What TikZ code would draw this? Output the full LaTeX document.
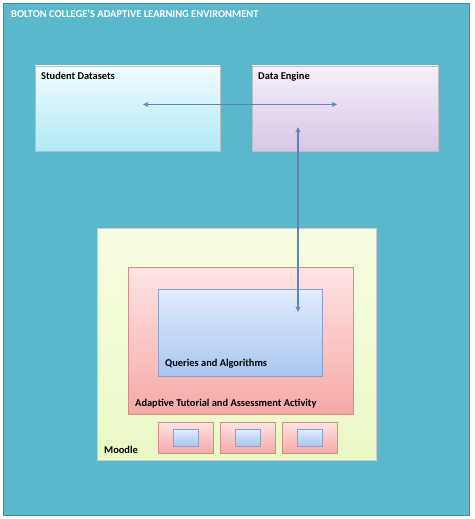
\documentclass[tikz,border=0pt]{standalone}
\usepackage{fontspec}
\setmainfont{Carlito}
\usetikzlibrary{shadows,arrows.meta}
\definecolor{teal1}{HTML}{5BB7CB}
\definecolor{tealb}{HTML}{3F8C9E}
\definecolor{arrowc}{HTML}{5B87B5}
\definecolor{sdtop}{RGB}{240,251,254}
\definecolor{sdbot}{RGB}{178,234,248}
\definecolor{detop}{RGB}{245,240,250}
\definecolor{debot}{RGB}{216,198,230}
\definecolor{motop}{RGB}{246,252,226}
\definecolor{mobot}{RGB}{234,248,196}
\definecolor{pktop}{RGB}{255,228,228}
\definecolor{pkbot}{RGB}{246,168,168}
\definecolor{pkdr}{RGB}{215,140,140}
\definecolor{bltop}{RGB}{226,236,252}
\definecolor{blbot}{RGB}{168,198,240}
\definecolor{bldr}{RGB}{140,160,200}
\tikzset{
  box/.style={draw=#1, line width=0.6pt, drop shadow={shadow xshift=1.2pt, shadow yshift=-1.2pt, opacity=0.35}},
  lbl/.style={font=\fontsize{10.4}{12}\selectfont\bfseries, text=black, anchor=base west, inner sep=0pt},
  conn/.style={draw=arrowc, line width=1.5pt, {Stealth[length=5.5pt,width=5pt]}-{Stealth[length=5.5pt,width=5pt]}},
}
\begin{document}
\begin{tikzpicture}[x=1pt,y=-1pt]
\useasboundingbox (0,0) rectangle (474,519);
\fill[white] (0,0) rectangle (474,519);
% outer environment
\node[draw=tealb, fill=teal1, line width=0.8pt, minimum width=466pt, minimum height=512pt, inner sep=0pt] (env) at (236.5,259) {};
\node[font=\fontsize{10.5}{12}\selectfont\bfseries, text=white, anchor=base west, inner sep=0pt] (title) at (11,17.5) {BOLTON COLLEGE'S ADAPTIVE LEARNING ENVIRONMENT};
% student datasets
\path[box=black!25, top color=sdtop, bottom color=sdbot] (35,66) rectangle (220,151);
\coordinate (sdc) at (143,104.5);
\node[lbl] (sd) at (41,79) {Student Datasets};
% data engine
\path[box=black!25, top color=detop, bottom color=debot] (252,66) rectangle (438,151);
\node[lbl] (de) at (258,79) {Data Engine};
\coordinate (dec) at (337,104.5);
\coordinate (deb) at (298,127);
% moodle
\path[box=black!20, top color=motop, bottom color=mobot] (97,228) rectangle (376,460);
\node[lbl] (moodle) at (104,453) {Moodle};
% adaptive tutorial
\path[box=pkdr, top color=pktop, bottom color=pkbot] (128,267) rectangle (353,414);
\node[lbl] (ata) at (135,406) {Adaptive Tutorial and Assessment Activity};
% queries
\path[box=bldr, top color=bltop, bottom color=blbot] (158,289) rectangle (322,376);
\node[lbl] (qa) at (165,366) {Queries and Algorithms};
\coordinate (qat) at (298,312);
% small activity boxes
\foreach \i/\xa in {1/158,2/220,3/282}{
  \path[box=pkdr, top color=pktop, bottom color=pkbot] (\xa,422) rectangle (\xa+55,453);
  \path[box=bldr, top color=bltop, bottom color=blbot] (\xa+15,429) rectangle (\xa+40,446);
}
% connectors
\draw[conn] (sdc) -- (dec);
\draw[conn] (deb) -- (qat);
\end{tikzpicture}
\end{document}
